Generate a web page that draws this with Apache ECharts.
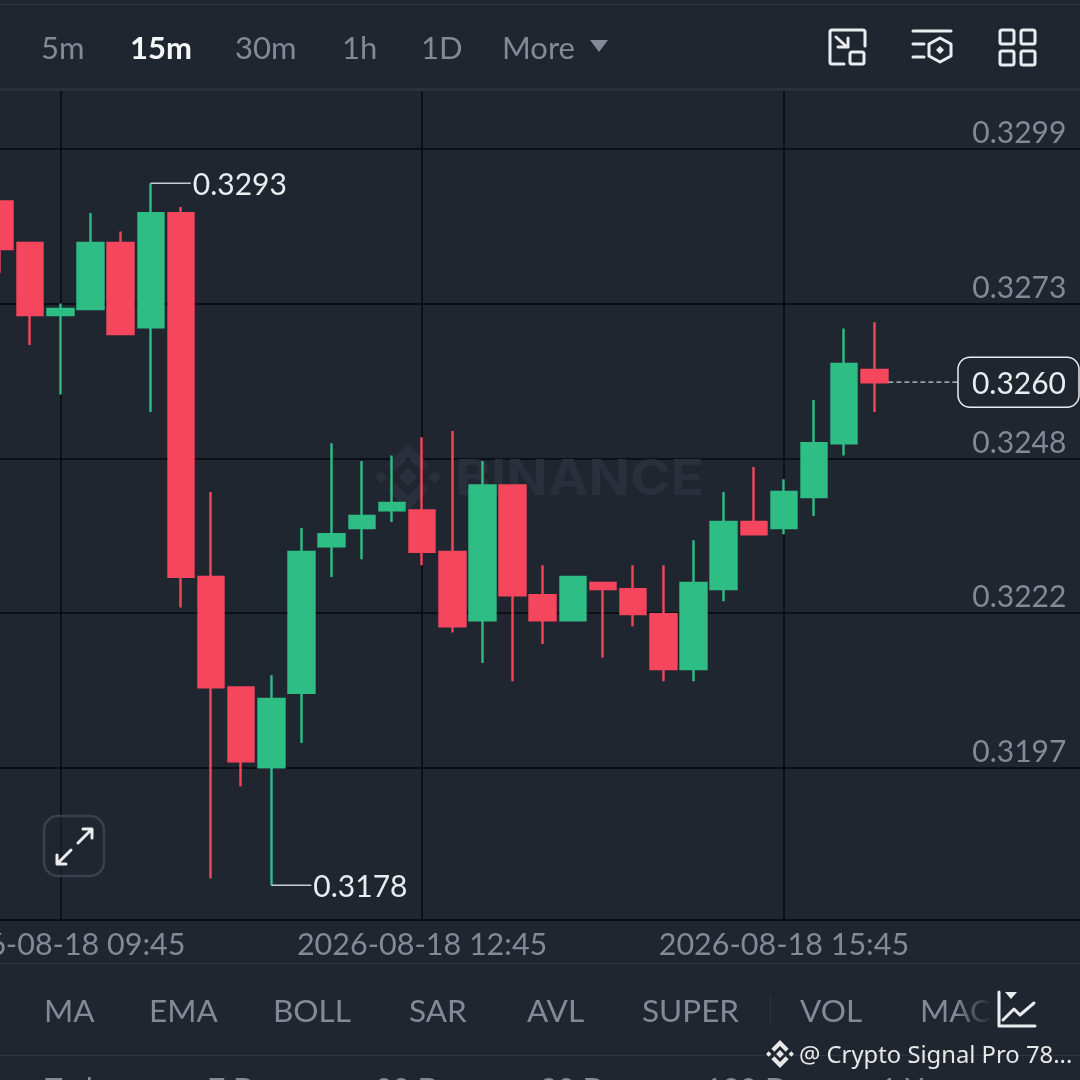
<!DOCTYPE html>
<html>
<head>
<meta charset="utf-8">
<style>html,body{margin:0;padding:0;background:#202630;overflow:hidden}#c{width:1080px;height:1080px}</style>
<script src="https://cdn.jsdelivr.net/npm/echarts@6/dist/echarts.min.js"></script>
</head>
<body>
<div id="c"></div>
<script>
const dateLabel = '2026-08-18';
const categories = ['09:15','09:30','09:45','10:00','10:15','10:30','10:45','11:00','11:15','11:30','11:45','12:00','12:15','12:30','12:45','13:00','13:15','13:30','13:45','14:00','14:15','14:30','14:45','15:00','15:15','15:30','15:45','16:00','16:15','16:30','16:45','17:00','17:15','17:30','17:45','18:00','18:15'];
const opens  = [0.32900,0.32832,0.32714,0.32724,0.32832,0.32694,0.32881,0.32285,0.32104,0.31973,0.32095,0.32335,0.32365,0.32394,0.32394,0.32326,0.32214,0.32435,0.32255,0.32214,0.32275,0.32265,0.32224,0.32134,0.32265,0.32375,0.32365,0.32416,0.32504,0.32624];
const closes = [0.32822,0.32714,0.32724,0.32832,0.32683,0.32881,0.32285,0.32104,0.31983,0.32085,0.32326,0.32355,0.32385,0.32406,0.32326,0.32204,0.32435,0.32255,0.32214,0.32285,0.32265,0.32224,0.32134,0.32275,0.32375,0.32355,0.32424,0.32504,0.32634,0.32604];
const lows   = [0.32783,0.32665,0.32584,0.32724,0.32683,0.32555,0.32235,0.31791,0.31942,0.31780,0.32013,0.32285,0.32314,0.32375,0.32304,0.32194,0.32144,0.32114,0.32175,0.32214,0.32153,0.32204,0.32114,0.32114,0.32245,0.32355,0.32355,0.32385,0.32484,0.32555];
const highs  = [0.32900,0.32832,0.32733,0.32881,0.32851,0.32930,0.32891,0.32424,0.32104,0.32124,0.32365,0.32504,0.32475,0.32484,0.32514,0.32524,0.32475,0.32435,0.32304,0.32285,0.32275,0.32304,0.32304,0.32345,0.32424,0.32465,0.32445,0.32575,0.32692,0.32702];
const yTicks = [0.32986,0.32733,0.32479,0.32227,0.31973];
const yTickLabels = ['0.3299','0.3273','0.3248','0.3222','0.3197'];
const extremes = [[5,0.32930],[9,0.31780]];
const lastPrice = [[29,0.32604]];
const tabLabels = ['5m','15m','30m','1h','1D','More'];
const indicatorLabels = ['MA','EMA','BOLL','SAR','AVL','SUPER','VOL','MACD'];
const rangeLabels = ['Today','7 Days','30 Days','90 Days','180 Days','1 Y'];
const creditText = '@ Crypto Signal Pro 78...';

const BG='#202630', GREY='#838a96', WHITE='#eaecef', GRID='#0c0f13', RULE='#2e3541', UP='#2ebd85', DOWN='#f6465d';
const FONT='Lato, Inter, sans-serif';
const tabX=[41,130,235,342,421,502], indX=[44,149,273,409,527,642,800,920], rangeX=[45,208,375,540,705,880];
const LOGO='M0 -.25L.25 0L0 .25L-.25 0ZM-.72 -.17L-.55 0L-.72 .17L-.89 0ZM.72 -.17L.89 0L.72 .17L.55 0ZM0 -.89L.55 -.34L.36 -.15L0 -.51L-.36 -.15L-.55 -.34ZM0 .89L.55 .34L.36 .15L0 .51L-.36 .15L-.55 .34Z';

let shapeCount=0;
const pathType=d=>{const name='svgpath'+(shapeCount++);echarts.graphic.registerShape(name,echarts.graphic.extendPath(d,{}));return name;};
const text=(t,x,y,size,fill,weight,extra)=>Object.assign({type:'text',z:20,silent:true,style:{text:t,x,y,fill,font:(weight||400)+' '+size+'px '+FONT,textVerticalAlign:'middle',textAlign:'left'}},extra);
const stroke=(d,w,col,z)=>({type:pathType(d),z:z||21,silent:true,style:{fill:'none',stroke:col||WHITE,lineWidth:w||3,lineCap:'round',lineJoin:'round'}});
const filled=(d,col,z,x,y,s)=>Object.assign({type:pathType(d),z:z||21,silent:true,style:{fill:col}},s?{x,y,scaleX:s,scaleY:s}:{});
const rr=(x,y,w,h,r,st,z)=>({type:'rect',z:z||21,silent:true,shape:{x,y,width:w,height:h,r},style:st});
const hl=(y,h,c)=>({type:'rect',z:15,silent:true,shape:{x:0,y,width:1080,height:h},style:{fill:c}});

const graphics=[
  hl(4,1,RULE), hl(88,3,'#2a313b'), hl(963,1,RULE), hl(1055,1,RULE),
  // watermark
  filled(LOGO,'#2a303b',1,408,477,37.6),
  {type:'text',z:1,silent:true,scaleX:1.09,originX:455,originY:480,style:{text:'BINANCE',x:455,y:480,fill:'#2a303b',font:'700 50px Inter, sans-serif',textVerticalAlign:'middle',textAlign:'left'}},
  // top tabs
  ...tabLabels.map((t,i)=>text(t,tabX[i],49,31,i===1?'#f5f6f7':GREY,i===1?700:400)),
  filled('M590 40L608 40L599 52Z',GREY,20),
  // icon 1
  stroke('M865 46L865 32Q865 30 863 30L832 30Q830 30 830 32L830 62Q830 64 832 64L844 64'),
  rr(850,52,14,12,2,{fill:'none',stroke:WHITE,lineWidth:3}),
  stroke('M836 37L847 47M848 38L848 47L838 47'),
  // icon 2
  stroke('M913 31L951 31M913 44L924 44M913 57L924 57'),
  stroke('M940 38L951 44L951 56L940 62L929 56L929 44Z'),
  filled('M940 46L944 50L940 54L936 50Z',WHITE,21),
  // icon 3
  rr(1000,30,14,14,2,{fill:'none',stroke:WHITE,lineWidth:3}), rr(1021,30,14,14,2,{fill:'none',stroke:WHITE,lineWidth:3}),
  rr(1000,51,14,14,2,{fill:'none',stroke:WHITE,lineWidth:3}), rr(1021,51,14,14,2,{fill:'none',stroke:WHITE,lineWidth:3}),
  // expand button
  rr(44,816,60,60,14,{fill:'rgba(32,38,48,0.55)',stroke:'#3a414c',lineWidth:2.5},19),
  stroke('M78 843L92 829M83 829L92 829L92 838M71 850L57 864M57 855L57 864L66 864'),
  // indicators
  ...indicatorLabels.map((t,i)=>text(t,indX[i],1012,31.5,GREY)),
  rr(770,995,1,30,0,{fill:RULE},20),
  {type:'rect',z:20,silent:true,shape:{x:955,y:990,width:125,height:45},style:{fill:{type:'linear',x:0,y:0,x2:1,y2:0,colorStops:[{offset:0,color:'rgba(32,38,48,0)'},{offset:0.3,color:BG},{offset:1,color:BG}]}}},
  stroke('M999 992L999 1026L1035 1026'),
  stroke('M1003 1020L1014 1009L1020 1015L1034 1003'),
  filled('M1005 992L1017 992L1011 999Z',WHITE,21),
  // clipped range row
  ...rangeLabels.map((t,i)=>text(t,rangeX[i],1090,30,GREY)),
  // credit
  filled(LOGO,'#e8e8e8',22,780,1054,15.7),
  {type:'text',z:22,silent:true,style:{text:creditText,x:799,y:1056,fill:'#e8e8e8',font:'400 23.8px "Noto Sans", sans-serif',textVerticalAlign:'middle',textAlign:'left',shadowColor:'rgba(0,0,0,0.6)',shadowBlur:2,shadowOffsetX:1,shadowOffsetY:1}}
];

const chart=echarts.init(document.getElementById('c'),null,{renderer:'canvas',width:1080,height:1080});
chart.setOption({
  animation:false,
  backgroundColor:BG,
  graphic:{elements:graphics},
  grid:{left:0,top:91,width:1085.4,height:829,containLabel:false,outerBoundsMode:'none'},
  xAxis:{
    type:'category',data:categories,boundaryGap:false,
    axisLine:{show:true,lineStyle:{color:GRID,width:2}},
    axisTick:{show:false,interval:i=>(i-2)%12===0},
    axisLabel:{margin:10,color:GREY,fontFamily:FONT,fontSize:30.5,hideOverlap:false,interval:i=>(i-2)%12===0,formatter:v=>dateLabel+' '+v},
    splitLine:{show:true,interval:i=>(i-2)%12===0,lineStyle:{color:GRID,width:2}}
  },
  yAxis:{
    type:'value',position:'right',scale:true,min:0.31723,max:0.33081,
    axisLine:{show:false},
    axisTick:{show:false,customValues:yTicks},
    axisLabel:{inside:true,margin:19,color:GREY,fontFamily:FONT,fontSize:30,verticalAlign:'bottom',lineHeight:31,customValues:yTicks,formatter:v=>yTickLabels[yTicks.indexOf(v)]},
    splitLine:{show:true,lineStyle:{color:GRID,width:2}}
  },
  series:[
    {type:'candlestick',barWidth:26,data:opens.map((o,i)=>[o,closes[i],lows[i],highs[i]]),
     itemStyle:{color:UP,color0:DOWN,borderColor:UP,borderColor0:DOWN,borderWidth:2.4},z:5,silent:true},
    {type:'custom',coordinateSystem:'cartesian2d',data:extremes,encode:{x:0,y:1},z:6,silent:true,
     renderItem:(p,api)=>{const c=api.coord([api.value(0),api.value(1)]);return {type:'group',children:[
       {type:'line',shape:{x1:c[0],y1:c[1],x2:c[0]+40,y2:c[1]},style:{stroke:'#c9ccd1',lineWidth:1.5}},
       {type:'text',style:{text:api.value(1).toFixed(4),x:c[0]+42,y:c[1]+2,fill:WHITE,font:'400 30px '+FONT,textVerticalAlign:'middle',textAlign:'left'}}
     ]};}},
    {type:'custom',coordinateSystem:'cartesian2d',data:lastPrice,encode:{x:0,y:1},z:6,silent:true,
     renderItem:(p,api)=>{const c=api.coord([api.value(0),api.value(1)]);return {type:'group',children:[
       {type:'line',shape:{x1:c[0]+14,y1:c[1],x2:958,y2:c[1]},style:{stroke:'#c9ccd1',lineWidth:1.2,lineDash:[5,3]}},
       {type:'rect',shape:{x:958,y:c[1]-25,width:121,height:50,r:12},style:{fill:BG,stroke:WHITE,lineWidth:1.5}},
       {type:'text',style:{text:api.value(1).toFixed(4),x:1066,y:c[1]+2,fill:WHITE,font:'400 30px '+FONT,textVerticalAlign:'middle',textAlign:'right'}}
     ]};}}
  ]
});
</script>
</body>
</html>
